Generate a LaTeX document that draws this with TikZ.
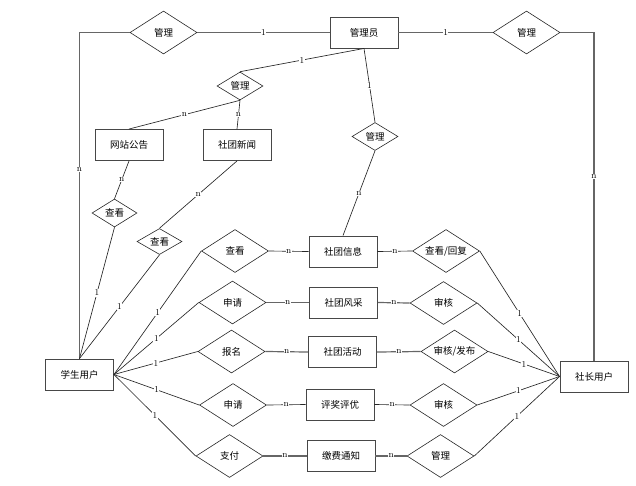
\documentclass[tikz,border=0pt]{standalone}
\usepackage{fontspec}
\newfontfamily\cjk{Noto Sans CJK SC}
\usetikzlibrary{shapes.geometric}
\tikzset{
  ent/.style={draw=black!72, line width=0.9pt, minimum width=68pt, minimum height=31pt, inner sep=0pt, font=\cjk\fontsize{9.5}{11}\selectfont},
  rel/.style={diamond, draw=black!85, line width=0.6pt, aspect=1.56, minimum width=67pt, minimum height=43pt, inner sep=0pt, font=\cjk\fontsize{9.5}{11}\selectfont},
  srel/.style={rel, minimum width=46pt, minimum height=28pt},
  ln/.style={draw=black!85, line width=0.65pt},
  thk/.style={draw=black!60, line width=1.2pt},
  lbl/.style={fill=white, inner sep=0.6pt, font=\fontsize{9}{10}\selectfont, midway}
}
\begin{document}
\begin{tikzpicture}[x=1pt,y=-1pt]
\useasboundingbox (0,0) rectangle (636,485);
% entities
\node[ent] (gly) at (364,32.5) {管理员};
\node[ent] (wzgg) at (129,145) {网站公告};
\node[ent] (stxw) at (237,145) {社团新闻};
\node[ent] (xs) at (79.5,374.5) {学生用户};
\node[ent] (sz) at (594,376.5) {社长用户};
\node[ent] (stxx) at (343,251.5) {社团信息};
\node[ent] (stfc) at (343.5,302.5) {社团风采};
\node[ent] (sthd) at (342.5,352) {社团活动};
\node[ent] (jpjy) at (340,404.5) {评奖评优};
\node[ent] (jftz) at (341,456) {缴费通知};
% relations
\node[rel] (glL) at (163.5,32.5) {管理};
\node[rel] (glR) at (526.5,32.5) {管理};
\node[srel] (glM) at (240,86) {管理};
\node[srel] (glD) at (375,136.5) {管理};
\node[srel, minimum width=45pt] (ck1) at (114.5,213) {查看};
\node[srel, minimum width=45pt, minimum height=26pt] (ck2) at (159.5,241.5) {查看};
\node[rel] (ck) at (235,251) {查看};
\node[rel] (sq1) at (232.5,302.5) {申请};
\node[rel] (bm) at (231.5,351.5) {报名};
\node[rel] (sq2) at (233,405) {申请};
\node[rel] (zf) at (229.5,456) {支付};
\node[rel] (ckhf) at (446,251) {查看/回复};
\node[rel] (sh1) at (443.5,303) {审核};
\node[rel] (shfb) at (454.5,351.5) {审核/发布};
\node[rel] (sh2) at (443.5,405) {审核};
\node[rel] (glB) at (440.5,456) {管理};
% top connectors
\draw[thk] (gly.west) -- node[lbl]{1} (glL.east);
\draw[thk] (glL.west) -| node[lbl, pos=0.71]{n} (xs.north);
\draw[thk] (gly.east) -- node[lbl]{1} (glR.west);
\draw[thk] (glR.east) -| node[lbl, pos=0.72]{n} (sz.north);
\draw[ln] (gly.south) -- node[lbl]{1} (glM.north);
\draw[ln] (glM.south) -- node[lbl]{n} (wzgg.north);
\draw[ln] (glM.south) -- node[lbl]{n} (stxw.north);
\draw[ln] (gly.south) -- node[lbl]{1} (glD.north);
\draw[ln] (glD.south) -- node[lbl]{n} (stxx.north);
\draw[ln] (wzgg.south) -- node[lbl]{n} (ck1.north);
\draw[ln] (ck1.south) -- node[lbl]{1} (xs.north);
\draw[ln] (stxw.south) -- node[lbl]{n} (ck2.north);
\draw[ln] (ck2.south) -- node[lbl]{1} (xs.north);
% student fan
\draw[ln] (xs.east) -- node[lbl]{1} (ck.west);
\draw[ln] (xs.east) -- node[lbl]{1} (sq1.west);
\draw[ln] (xs.east) -- node[lbl]{1} (bm.west);
\draw[ln] (xs.east) -- node[lbl]{1} (sq2.west);
\draw[ln] (xs.east) -- node[lbl]{1} (zf.west);
% rows
\draw[ln] (ck.east) -- node[lbl]{n} (stxx.west);
\draw[thk] (sq1.east) -- node[lbl]{n} (stfc.west);
\draw[thk] (bm.east) -- node[lbl]{n} (sthd.west);
\draw[ln] (sq2.east) -- node[lbl]{n} (jpjy.west);
\draw[thk] (zf.east) -- node[lbl]{n} (jftz.west);
\draw[ln] (stxx.east) -- node[lbl]{n} (ckhf.west);
\draw[thk] (stfc.east) -- node[lbl]{n} (sh1.west);
\draw[thk] (sthd.east) -- node[lbl]{n} (shfb.west);
\draw[ln] (jpjy.east) -- node[lbl]{n} (sh2.west);
\draw[thk] (jftz.east) -- node[lbl]{n} (glB.west);
% leader fan
\draw[ln] (ckhf.east) -- node[lbl]{1} (sz.west);
\draw[ln] (sh1.east) -- node[lbl]{1} (sz.west);
\draw[ln] (shfb.east) -- node[lbl]{1} (sz.west);
\draw[ln] (sh2.east) -- node[lbl]{1} (sz.west);
\draw[ln] (glB.east) -- node[lbl]{1} (sz.west);
\end{tikzpicture}
\end{document}
